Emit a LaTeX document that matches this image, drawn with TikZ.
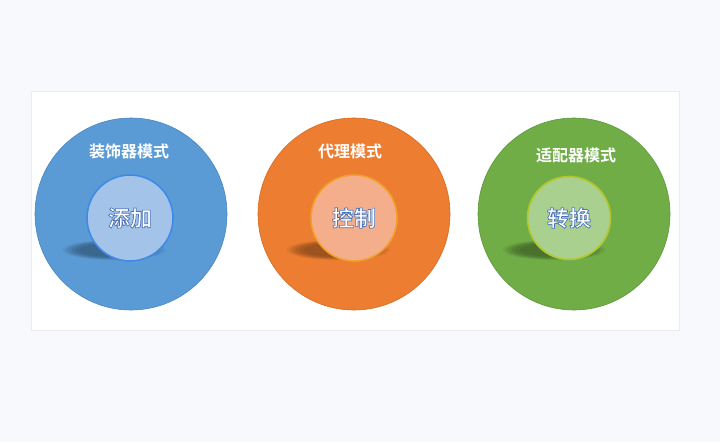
\documentclass[tikz,border=0pt]{standalone}
\usepackage{fontspec}
\newfontfamily\cjk{Noto Sans CJK SC}
\newfontfamily\cjkb{Noto Sans CJK SC Bold}
\definecolor{pagebg}{HTML}{F8F9FD}
\definecolor{panelline}{HTML}{EBECEF}
\definecolor{bluebig}{HTML}{5B9BD5}
\definecolor{blueedge}{HTML}{4A86C0}
\definecolor{blueinner}{HTML}{A3C4E8}
\definecolor{blueinedge}{HTML}{3F8AE6}
\definecolor{orbig}{HTML}{ED7D31}
\definecolor{oredge}{HTML}{D46B22}
\definecolor{orinner}{HTML}{F5AE8C}
\definecolor{orinedge}{HTML}{EFA22A}
\definecolor{grbig}{HTML}{70AD47}
\definecolor{gredge}{HTML}{5E983A}
\definecolor{grinner}{HTML}{A9D08E}
\definecolor{grinedge}{HTML}{B3C72A}
\tikzset{
  bigc/.style={circle, minimum size=192pt, inner sep=0pt, line width=0.6pt},
  innc/.style={circle, minimum size=86pt, inner sep=0pt, line width=1.6pt},
  title/.style={text=white, font=\cjkb\fontsize{16}{16}\selectfont},
  inlabel/.style={text=white, font=\cjkb\fontsize{22}{22}\selectfont},
}
\newcommand{\outlined}[1]{%
  \special{pdf:literal direct 1 1 1 rg 0.3 0.45 0.72 RG 0.7 w 2 Tr}#1\special{pdf:literal direct 0 Tr}}
\newcommand{\shad}[1]{%
  \foreach \s/\o in {1.12/0.05,1.06/0.06,1.0/0.07,0.93/0.07,0.85/0.07,0.75/0.06}
    \fill[black, opacity=\o] (#1) ellipse[x radius=46*\s pt, y radius=9*\s pt];}
\begin{document}
\begin{tikzpicture}[x=1pt,y=-1pt]
\useasboundingbox (0,0) rectangle (720,442);
\fill[pagebg] (0,0) rectangle (720,442);
\fill[white, draw=panelline, line width=1pt] (31,91) rectangle (679,330);
% big circles
\node[bigc, fill=bluebig, draw=blueedge] (b1) at (131,214) {};
\node[bigc, fill=orbig, draw=oredge] (b2) at (354,214) {};
\node[bigc, fill=grbig, draw=gredge] (b3) at (574,214) {};
% shadows
\coordinate (s1) at (114,250);
\coordinate (s2) at (338,250);
\coordinate (s3) at (554,250);
\shad{s1}\shad{s2}\shad{s3}
% inner circles
\node[innc, fill=blueinner, draw=blueinedge] (i1) at (130,218) {};
\node[innc, fill=orinner, draw=orinedge] (i2) at (354,218) {};
\node[innc, minimum size=83pt, fill=grinner, draw=grinedge] (i3) at (569,218) {};
% titles
\node[title] (t1) at (129,151) {装饰器模式};
\node[title] (t2) at (350,151) {代理模式};
\node[title] (t3) at (576,155) {适配器模式};
% inner labels
\node[inlabel] (l1) at (i1) {\outlined{添加}};
\node[inlabel] (l2) at (i2) {\outlined{控制}};
\node[inlabel] (l3) at (i3) {\outlined{转换}};
\end{tikzpicture}
\end{document}
